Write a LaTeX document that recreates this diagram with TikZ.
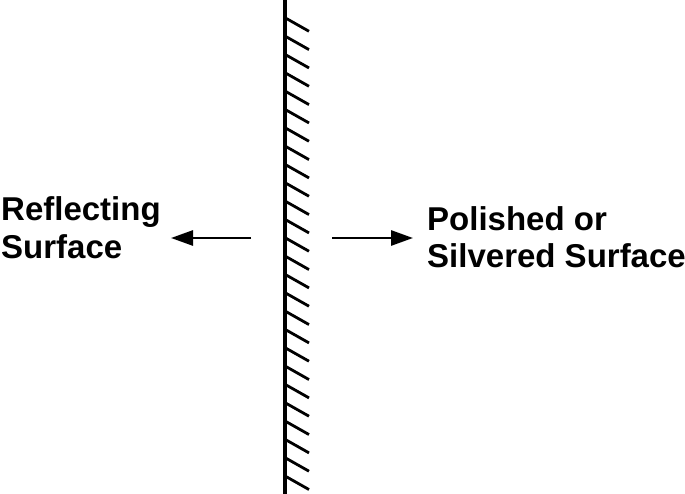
\documentclass[tikz,border=0pt]{standalone}
\usepackage{fontspec}
\setmainfont{Liberation Sans}
\usetikzlibrary{arrows.meta}
\begin{document}
\begin{tikzpicture}[x=1pt,y=-1pt,
  mirror/.style={line width=3.4pt},
  hatch/.style={line width=2.8pt},
  pointer/.style={line width=2.8pt,-{Triangle[length=22pt,width=15pt]}},
  lbl/.style={font=\bfseries\fontsize{33}{37.5}\selectfont,inner sep=0pt,align=left,anchor=base west}]
\useasboundingbox (0,0) rectangle (685,494);
\coordinate (mtop) at (285,0);
\coordinate (mbot) at (285,494);
\draw[mirror] (mtop) -- (mbot);
\foreach \k in {0,...,25}{
  \draw[hatch] (286,18.3+\k*18.33) -- ++(23,13);
}
\node[lbl] (left) at (1,258.5) {Reflecting\\Surface};
\node[lbl] (right) at (427,268) {Polished or\\Silvered Surface};
\coordinate (la) at (251,238);
\coordinate (lb) at (171,238);
\coordinate (ra) at (332,238);
\coordinate (rb) at (413,238);
\draw[pointer] (la) -- (lb);
\draw[pointer] (ra) -- (rb);
\end{tikzpicture}
\end{document}
